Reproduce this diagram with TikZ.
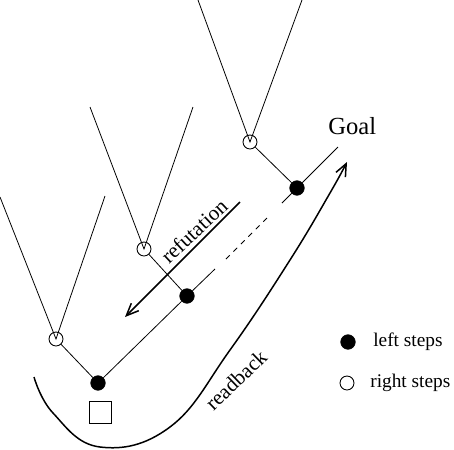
\documentclass[tikz,border=0pt]{standalone}
\usepackage{fontspec}
\setmainfont{Liberation Serif}
\usetikzlibrary{arrows.meta}

\begin{document}
\begin{tikzpicture}[x=0.02cm,y=-0.02cm]

\tikzstyle{lstep}=[circle,draw,fill,inner sep=0pt,minimum size=0.29cm]
\tikzstyle{rstep}=[circle,draw,inner sep=0pt,minimum size=0.28cm,line width=0.5pt]
\tikzstyle{branch}=[line width=0.45pt]
\tikzstyle{bigarrow}=[line width=0.85pt,-{Straight Barb[length=7pt,width=6pt]}]
\tikzstyle{lbl}=[font=\fontsize{11}{13}\selectfont,inner sep=0pt]

\useasboundingbox (0,0) rectangle (454,450);

% right steps
\node[rstep] (o1) at ( 56,339) {} ;
\node[rstep] (o2) at (144,249) {} ;
\node[rstep] (o3) at (250,142) {} ;

% left steps
\node[lstep] (d1) at ( 98,383) {} ;
\node[lstep] (d2) at (187,296) {} ;
\node[lstep] (d3) at (297,188) {} ;

\node[draw,line width=0.5pt,minimum size=0.44cm,inner sep=0pt] (start) at (100,412) {} ;

% ends of the branches
\coordinate (l1) at (  0,197) ;
\coordinate (r1) at (105,196) ;
\coordinate (l2) at ( 90,107) ;
\coordinate (r2) at (193,107) ;
\coordinate (l3) at (198,  0) ;
\coordinate (r3) at (302,  0) ;

\coordinate (m1) at (215,269) ;
\coordinate (g1) at (226,259) ;
\coordinate (g2) at (269,216) ;
\coordinate (m2) at (282,203) ;
\coordinate (m3) at (338,147) ;

\draw[branch] (l1) -- (o1.center) -- (r1) ;
\draw[branch] (l2) -- (o2.center) -- (r2) ;
\draw[branch] (l3) -- (o3.center) -- (r3) ;

\draw[branch] (o1) -- (d1) ;
\draw[branch] (o2) -- (d2) ;
\draw[branch] (o3) -- (d3) ;

\draw[branch] (d1) -- (d2) -- (m1) ;
\draw[branch,dash pattern=on 3pt off 3pt] (g1) -- (g2) ;
\draw[branch] (m2) -- (d3) -- (m3) ;

\node[anchor=base west,inner sep=0pt,font=\fontsize{14}{16}\selectfont] (goal) at (328,134) {Goal} ;

% refutation
\coordinate (rf0) at (240,202) ;
\coordinate (rf1) at (125,317) ;
\draw[bigarrow] (rf0) -- (rf1) ;
\node[lbl,rotate=43,font=\fontsize{12}{14}\selectfont] (reftxt) at (194,231) {refutation} ;

% readback
\coordinate (rb0) at ( 34,377) ;
\coordinate (rb1) at (347,162) ;
\draw[bigarrow] plot[smooth,tension=0.7] coordinates {(rb0) (53,413) (100,447) (170,427) (230,350) (290,260) (330,193) (rb1)} ;
\node[lbl,rotate=44,font=\fontsize{12}{14}\selectfont] (rbtxt) at (236,380) {readback} ;

% legend
\node[lstep] (kl) at (348,342) {} ;
\node[rstep] (kr) at (347,383) {} ;
\node[lbl,anchor=west] (kltxt) at (373,342) {left steps} ;
\node[lbl,anchor=west] (krtxt) at (370,383) {right steps} ;

% \draw[branch] (d1) -- (start);

\end{tikzpicture}
\end{document}
